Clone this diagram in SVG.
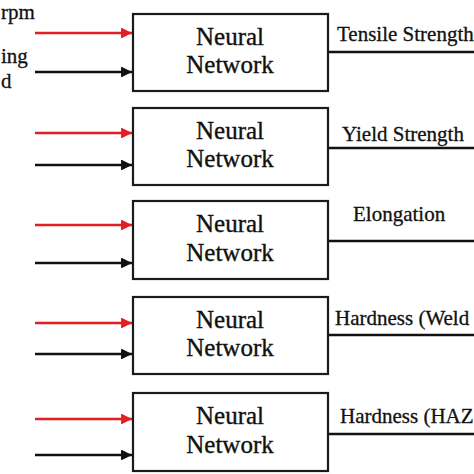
<svg xmlns="http://www.w3.org/2000/svg" width="474" height="474" viewBox="0 0 474 474">
<style>
.box{fill:#fff;stroke:#1a1a1a;stroke-width:2.2}
.nt{font-family:"Liberation Serif",serif;font-size:25px;fill:#111;stroke:#111;stroke-width:0.35;text-anchor:middle}
.lb{font-family:"Liberation Serif",serif;font-size:21px;fill:#111;stroke:#111;stroke-width:0.3}
.in{font-family:"Liberation Serif",serif;font-size:21px;fill:#111;stroke:#111;stroke-width:0.3}
.red{stroke:#e31e24;stroke-width:2.6;fill:none}
.blk{stroke:#111;stroke-width:2.6;fill:none}
.out{stroke:#111;stroke-width:2.4;fill:none}
</style>
<defs>
<marker id="ar" viewBox="0 0 10 10" refX="10" refY="5" markerWidth="4.2" markerHeight="4.2" markerUnits="strokeWidth" orient="auto"><path d="M0,0 L10,5 L0,10 z" fill="#e31e24"/></marker>
<marker id="ab" viewBox="0 0 10 10" refX="10" refY="5" markerWidth="4.2" markerHeight="4.2" markerUnits="strokeWidth" orient="auto"><path d="M0,0 L10,5 L0,10 z" fill="#111"/></marker>
</defs>
<rect width="474" height="474" fill="#fff"/>
<g id="inputs-text">
<text class="in" x="1" y="19">rpm</text>
<text class="in" x="1" y="63">ing</text>
<text class="in" x="1" y="88">d</text>
</g>
<g id="connectors">
<line class="red" x1="35" y1="33" x2="132" y2="33" marker-end="url(#ar)"/>
<line class="blk" x1="35" y1="72" x2="132" y2="72" marker-end="url(#ab)"/>
<line class="red" x1="35" y1="133" x2="132" y2="133" marker-end="url(#ar)"/>
<line class="blk" x1="35" y1="165" x2="132" y2="165" marker-end="url(#ab)"/>
<line class="red" x1="35" y1="225" x2="132" y2="225" marker-end="url(#ar)"/>
<line class="blk" x1="35" y1="263" x2="132" y2="263" marker-end="url(#ab)"/>
<line class="red" x1="35" y1="323" x2="132" y2="323" marker-end="url(#ar)"/>
<line class="blk" x1="35" y1="354" x2="132" y2="354" marker-end="url(#ab)"/>
<line class="red" x1="35" y1="419" x2="132" y2="419" marker-end="url(#ar)"/>
<line class="blk" x1="35" y1="455" x2="132" y2="455" marker-end="url(#ab)"/>
<line class="out" x1="328" y1="52" x2="474" y2="52"/>
<line class="out" x1="328" y1="148" x2="474" y2="148"/>
<line class="out" x1="328" y1="241" x2="474" y2="241"/>
<line class="out" x1="328" y1="335" x2="474" y2="335"/>
<line class="out" x1="328" y1="434" x2="474" y2="434"/>
</g>
<g id="nn1"><rect class="box" x="133" y="14" width="195" height="77"/><text class="nt" x="230" y="45">Neural</text><text class="nt" x="230" y="73">Network</text></g>
<g id="nn2"><rect class="box" x="133" y="108" width="195" height="77"/><text class="nt" x="230" y="139">Neural</text><text class="nt" x="230" y="167">Network</text></g>
<g id="nn3"><rect class="box" x="133" y="201" width="195" height="78"/><text class="nt" x="230" y="232">Neural</text><text class="nt" x="230" y="261">Network</text></g>
<g id="nn4"><rect class="box" x="133" y="297" width="195" height="77"/><text class="nt" x="230" y="328">Neural</text><text class="nt" x="230" y="356">Network</text></g>
<g id="nn5"><rect class="box" x="133" y="393" width="195" height="78"/><text class="nt" x="230" y="424">Neural</text><text class="nt" x="230" y="453">Network</text></g>
<g id="labels">
<text class="lb" x="337" y="41">Tensile Strength</text>
<text class="lb" x="342" y="141">Yield Strength</text>
<text class="lb" x="353" y="221">Elongation</text>
<text class="lb" x="335" y="325">Hardness (Weld</text>
<text class="lb" x="340" y="423">Hardness (HAZ</text>
</g>
</svg>
